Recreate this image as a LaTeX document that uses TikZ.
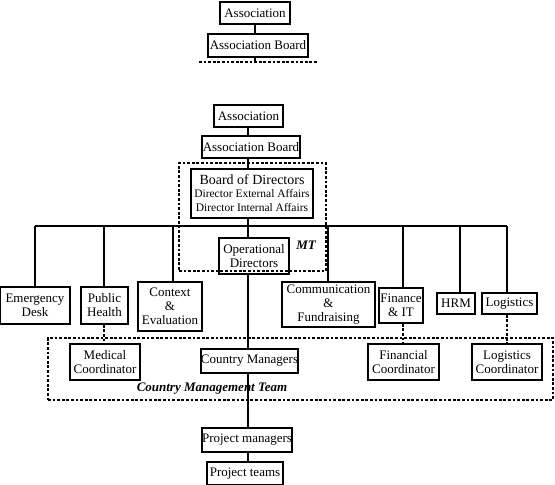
\documentclass[tikz,border=0pt]{standalone}
\usepackage{fontspec}
\setmainfont{Liberation Serif}
\begin{document}
\begin{tikzpicture}[x=1pt,y=-1pt,
  box/.style={draw,line width=1.4pt,inner sep=0pt,align=center,font=\fontsize{13}{14}\selectfont},
  conn/.style={line width=1.3pt},
  dconn/.style={line width=1.1pt,dash pattern=on 2.8pt off 1.8pt},
  dgroup/.style={line width=1.1pt,dash pattern=on 2.8pt off 1.8pt},
  tlabel/.style={font=\fontsize{13}{14}\selectfont\bfseries\itshape,inner sep=0pt}]
\useasboundingbox (0,0) rectangle (555,485);
% top fragment
\node[box,minimum width=70pt,minimum height=22pt] (assoc1) at (255,13) {Association};
\node[box,minimum width=100pt,minimum height=23pt] (board1) at (258,45.5) {Association Board};
\coordinate (d1) at (255,62);
\coordinate (d1l) at (199,62);
\coordinate (d1r) at (318,62);
\draw[dgroup] (d1l) -- (d1r);
\draw[conn] (assoc1.south -| d1) -- (board1.north -| d1);
\draw[conn] (board1.south -| d1) -- (d1);
% main chart
\coordinate (cx) at (248,0);
\node[box,minimum width=69pt,minimum height=22pt] (assoc2) at (248.5,116) {Association};
\node[box,minimum width=98pt,minimum height=22pt] (board2) at (251,147) {Association Board};
\node[dgroup,draw,minimum width=147pt,minimum height=108pt,inner sep=0pt] (mt) at (252.5,217) {};
\node[box,minimum width=122pt,minimum height=49pt] (bod) at (252,193.5)
  {{\fontsize{14}{15}\selectfont Board of Directors}\\[-1pt]{\fontsize{11.5}{13}\selectfont Director External Affairs}\\{\fontsize{11.5}{13}\selectfont Director Internal Affairs}};
\node[box,minimum width=70pt,minimum height=36pt] (opdir) at (254,256) {Operational\\Directors};
\node[tlabel] (mtl) at (306,245) {MT};
\coordinate (busl) at (35,226);
\coordinate (busr) at (507,226);
\draw[conn] (busl) -- (busr);
\draw[conn] (assoc2.south -| cx) -- (board2.north -| cx);
\draw[conn] (board2.south -| cx) -- (bod.north -| cx);
\draw[conn] (bod.south -| cx) -- (opdir.north -| cx);
% departments
\node[box,minimum width=70pt,minimum height=37pt] (emer) at (35,305.5) {Emergency\\Desk};
\node[box,minimum width=47pt,minimum height=37pt] (ph) at (104.5,305.5) {Public\\Health};
\node[box,minimum width=64pt,minimum height=49pt] (ctx) at (170,306.5) {Context\\\&\\Evaluation};
\node[box,minimum width=93pt,minimum height=45pt] (comm) at (328.5,304.5) {Communication\\\&\\Fundraising};
\node[box,minimum width=44pt,minimum height=35pt] (fin) at (401,305.5) {Finance\\\& IT};
\node[box,minimum width=38pt,minimum height=21pt] (hrm) at (456,303.5) {HRM};
\node[box,minimum width=55pt,minimum height=21pt] (log) at (509.5,303.5) {Logistics};
\coordinate (xe) at (35,226);
\coordinate (xp) at (104,226);
\coordinate (xc) at (173,226);
\coordinate (xm) at (328,226);
\coordinate (xf) at (403,226);
\coordinate (xh) at (460,226);
\coordinate (xl) at (507,226);
\draw[conn] (xe) -- (emer.north -| xe);
\draw[conn] (xp) -- (ph.north -| xp);
\draw[conn] (xc) -- (ctx.north -| xc);
\draw[conn] (xm) -- (comm.north -| xm);
\draw[conn] (xf) -- (fin.north -| xf);
\draw[conn] (xh) -- (hrm.north -| xh);
\draw[conn] (xl) -- (log.north -| xl);
% country management team
\node[dgroup,draw,minimum width=505pt,minimum height=62pt,inner sep=0pt] (cmt) at (300.5,369) {};
\node[box,minimum width=70pt,minimum height=36pt] (med) at (105,362) {Medical\\Coordinator};
\node[box,minimum width=95pt,minimum height=24pt] (cm) at (249.5,361) {Country Managers};
\node[box,minimum width=71pt,minimum height=36pt] (fc) at (403.5,362) {Financial\\Coordinator};
\node[box,minimum width=70pt,minimum height=36pt] (lc) at (507,362) {Logistics\\Coordinator};
\node[tlabel] (cmtl) at (212,389) {Country Management Team};
\draw[dconn] (ph.south -| xp) -- (med.north -| xp);
\draw[dconn] (fin.south -| xf) -- (fc.north -| xf);
\draw[dconn] (log.south -| xl) -- (lc.north -| xl);
\draw[conn] (opdir.south -| cx) -- (cm.north -| cx);
% projects
\node[box,minimum width=90pt,minimum height=24pt] (pm) at (247,440) {Project managers};
\node[box,minimum width=76pt,minimum height=23pt] (pt) at (245,473.5) {Project teams};
\draw[conn] (cm.south -| cx) -- (pm.north -| cx);
\draw[conn] (pm.south -| cx) -- (pt.north -| cx);
\end{tikzpicture}
\end{document}
